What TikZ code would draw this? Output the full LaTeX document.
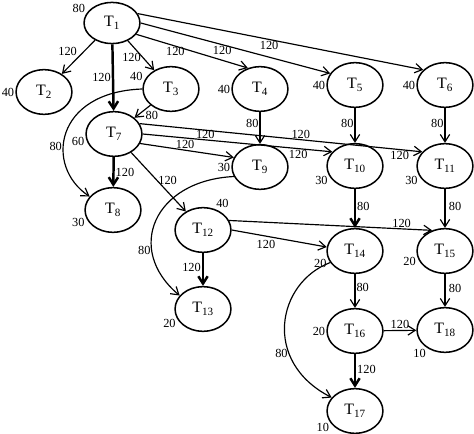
\documentclass[tikz,border=0pt]{standalone}
\usepackage{fontspec}
\setmainfont{Liberation Serif}
\usepackage{tikz}
\usetikzlibrary{positioning, arrows.meta, shapes.geometric}

\begin{document}
\begin{tikzpicture}[x=0.85pt, y=-0.85pt,
    task/.style={ellipse, draw, line width=1.3pt, minimum width=47.5pt, minimum height=38pt,
                 inner sep=0pt, font=\fontsize{13.5}{15}\selectfont},
    wt/.style={inner sep=0.8pt, font=\fontsize{10.5}{12}\selectfont},
    lbl/.style={wt},
    edge/.style={-{Straight Barb[length=2.2mm, width=2.8mm]}, line width=1pt},
    crit/.style={edge, line width=2.1pt}]
  \useasboundingbox (0,0) rectangle (474,434);

  % tasks
  \node[task, minimum height=35pt, label={[wt]160:80}] (t1) at (112,23) {T\textsubscript{1}};
  \node[task, label={[wt]180:40}] (t2) at (44,92) {T\textsubscript{2}};
  \node[task, label={[wt]165:40}] (t3) at (171,89) {T\textsubscript{3}};
  \node[task, label={[wt]180:40}] (t4) at (260,89) {T\textsubscript{4}};
  \node[task, label={[wt]180:40}] (t5) at (355,85) {T\textsubscript{5}};
  \node[task, label={[wt]180:40}] (t6) at (445,85) {T\textsubscript{6}};
  \node[task, label={[wt]185:60}] (t7) at (114,134) {T\textsubscript{7}};
  \node[task, label={[wt]195:30}] (t8) at (113,210) {T\textsubscript{8}};
  \node[task, label={[wt]180:30}] (t9) at (260,167) {T\textsubscript{9}};
  \node[task, label={[wt]200:30}] (t10) at (355,166) {T\textsubscript{10}};
  \node[task, label={[wt]200:30}] (t11) at (445,166) {T\textsubscript{11}};
  \node[task, label={[wt]60:40}] (t12) at (203,230) {T\textsubscript{12}};
  \node[task, label={[wt]200:20}] (t13) at (203,309) {T\textsubscript{13}};
  \node[task, label={[wt]195:20}] (t14) at (355,251) {T\textsubscript{14}};
  \node[task, label={[wt]190:20}] (t15) at (445,251) {T\textsubscript{15}};
  \node[task, label={[wt]180:20}] (t16) at (355,331) {T\textsubscript{16}};
  \node[task, label={[wt]205:10}] (t17) at (355,411) {T\textsubscript{17}};
  \node[task, label={[wt]225:10}] (t18) at (445,330) {T\textsubscript{18}};

  % edges out of T1
  \draw[edge] (t1) -- node[lbl, pos=0.5, above left] {120} (t2);
  \draw[crit] (t1) -- node[lbl, pos=0.5, left] {120} (t7);
  \draw[edge] (t1) -- node[lbl, pos=0.55, left] {120} (t3);
  \draw[edge] (t1.-25) -- node[lbl, pos=0.35, below] {120} (t4.120);
  \draw[edge] (t1.east) -- node[lbl, pos=0.43, below] {120} (t5.155);
  \draw[edge] (t1.20) -- node[lbl, pos=0.46, below] {120} (t6.145);

  % second row
  \draw[edge] (t3) -- node[lbl, pos=0.4, below right] {80} (t7);
  \draw[edge] (t3.west) .. controls +(-88,3) and +(-45,-30) ..
    node[lbl, pos=0.6, left] {80} (t8.150);
  \draw[edge] (t4) -- node[lbl, pos=0.35, left] {80} (t9);
  \draw[edge] (t5) -- node[lbl, pos=0.43, left] {80} (t10);
  \draw[edge] (t6) -- node[lbl, pos=0.43, left] {80} (t11);

  % edges out of T7
  \draw[crit] (t7) -- node[lbl, pos=0.5, right] {120} (t8);
  \draw[edge] (t7) -- node[lbl, pos=0.47, right] {120} (t12);
  \draw[edge] (t7.-20) -- node[lbl, pos=0.48, above] {120} (t9.160);
  \draw[edge] (t7.east) -- node[lbl, pos=0.33, above] {120}
    node[lbl, pos=0.82, below] {120} (t10.148);
  \draw[edge] (t7.22) -- node[lbl, pos=0.57, above] {120}
    node[lbl, pos=0.92, below] {120} (t11.148);

  % lower part
  \draw[edge] (t9.200) .. controls +(-80,4) and +(-55,-46) ..
    node[lbl, pos=0.7, left] {80} (t13.150);
  \draw[crit] (t10) -- node[lbl, pos=0.45, right] {80} (t14);
  \draw[edge] (t11) -- node[lbl, pos=0.45, right=2pt] {80} (t15);
  \draw[edge] (t12.20) -- node[lbl, pos=0.85, above] {120} (t15.122);
  \draw[edge] (t12.east) -- node[lbl, pos=0.36, below=2pt] {120} (t14.172);
  \draw[crit] (t12) -- node[lbl, pos=0.45, left] {120} (t13);
  \draw[edge] (t14) -- node[lbl, pos=0.4, right] {80} (t16);
  \draw[edge] (t14.205) .. controls +(-53,20) and +(-70,-36) ..
    node[lbl, pos=0.68, left] {80} (t17.150);
  \draw[edge] (t15) -- node[lbl, pos=0.45, right=2pt] {80} (t18);
  \draw[edge] (t16) -- node[lbl, pos=0.5, above] {120} (t18);
  \draw[crit] (t16) -- node[lbl, pos=0.45, right] {120} (t17);
\end{tikzpicture}
\end{document}
